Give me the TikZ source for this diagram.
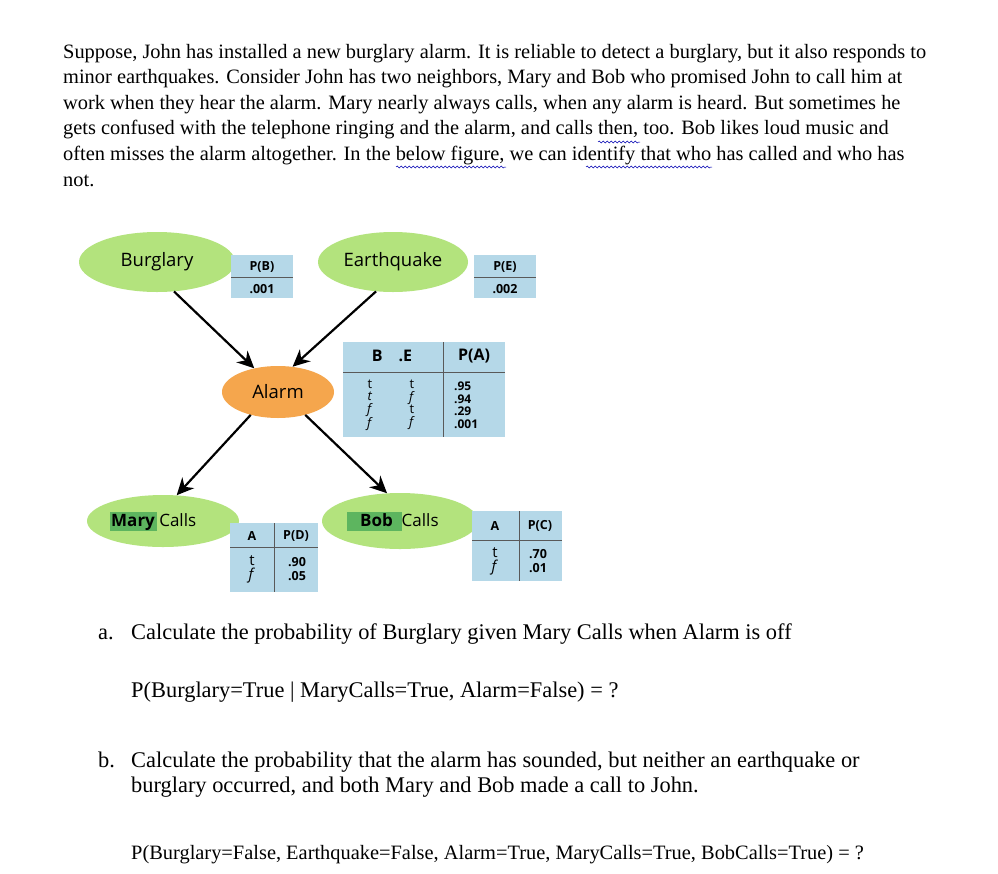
\documentclass[tikz,border=0pt]{standalone}
\usepackage{fontspec}
\setmainfont{Liberation Serif}
\newfontfamily\sans{Open Sans}
\usetikzlibrary{arrows.meta,decorations.pathmorphing,shapes.geometric}
\definecolor{lgreen}{HTML}{B3E37D}
\definecolor{dgreen}{HTML}{5DB55F}
\definecolor{orng}{HTML}{F5A64D}
\definecolor{tblue}{HTML}{B5D8E8}
\begin{document}
\begin{tikzpicture}[x=1pt,y=-1pt,
  body/.style={anchor=base west,inner sep=0pt,font=\fontsize{20.4}{24}\selectfont},
  qbody/.style={anchor=base west,inner sep=0pt,font=\fontsize{22.4}{26}\selectfont},
  ell/.style={ellipse,fill=lgreen,inner sep=0pt,font=\sans\fontsize{18.5}{20}\selectfont},
  arr/.style={-{Stealth[length=17pt,width=16pt]},line width=2.2pt},
  tb/.style={fill=tblue},
  tt/.style={inner sep=0pt,font=\sans\bfseries\fontsize{12.5}{13}\selectfont},
  wavy/.style={draw=blue!70!black,decorate,decoration={snake,amplitude=1pt,segment length=4pt},line width=0.5pt}]
\useasboundingbox (0,0) rectangle (998,873);
\fill[white] (0,0) rectangle (998,873);
% paragraph
\node[body] (l1) at (63,58) {Suppose, John has installed a new burglary alarm. It is reliable to detect a burglary, but it also responds to};
\node[body] (l2) at (63,83) {minor earthquakes. Consider John has two neighbors, Mary and Bob who promised John to call him at};
\node[body] (l3) at (63,109) {work when they hear the alarm. Mary nearly always calls, when any alarm is heard. But sometimes he};
\node[body] (l4) at (63,134) {gets confused with the telephone ringing and the alarm, and calls then, too. Bob likes loud music and};
\node[body] (l5) at (63,160) {often misses the alarm altogether. In the below figure, we can identify that who has called and who has};
\node[body] (l6) at (63,186) {not.};
\draw[wavy] (598,142) -- (640,142);
\draw[wavy] (396,167) -- (506,167);
\draw[wavy] (586,167) -- (712,167);
% nodes
\node[ell,minimum width=156,minimum height=60] (bur) at (157,262) {\raisebox{4pt}{Burglary}};
\node[ell,minimum width=150,minimum height=60] (ear) at (393,262) {\raisebox{4pt}{Earthquake}};
\node[ellipse,fill=orng,inner sep=0pt,minimum width=112,minimum height=52,font=\sans\fontsize{18.5}{20}\selectfont] (ala) at (278,392) {Alarm};
\node[ell,minimum width=152,minimum height=52] (mar) at (163,521) {};
\node[ell,minimum width=156,minimum height=56] (bob) at (400,521) {};
\fill[dgreen] (110,512) rectangle (157,531);
\node[inner sep=0pt,anchor=base west,font=\sans\fontsize{17}{18}\selectfont] (mt) at (111,526) {\textbf{Mary}\ Calls};
\fill[dgreen] (347,512) rectangle (402,531);
\node[inner sep=0pt,anchor=base west,font=\sans\fontsize{17}{18}\selectfont] (bt) at (360,526) {\textbf{Bob}\ \ Calls};
% arrows
\draw[arr] (bur.300) -- (ala.135);
\draw[arr] (ear.240) -- (ala.60);
\draw[arr] (ala.220) -- (mar.62);
\draw[arr] (ala.320) -- (bob.115);
% P(B)
\fill[tb] (231,255) rectangle (293,298);
\draw[gray!70!black,line width=1pt] (231,277) -- (293,277);
\node[tt] (pb) at (262,267) {P(B)};
\node[tt] (pbv) at (262,289) {.001};
% P(E)
\fill[tb] (474,255) rectangle (536,298);
\draw[gray!70!black,line width=1pt] (474,277) -- (536,277);
\node[tt] (pe) at (505,267) {P(E)};
\node[tt] (pev) at (505,289) {.002};
% P(A)
\fill[tb] (343,342) rectangle (505,437);
\draw[gray!70!black,line width=1pt] (343,372) -- (505,372) (443,342) -- (443,437);
\node[tt,font=\sans\bfseries\fontsize{16}{17}\selectfont] (pah) at (392,356) {B\hspace{16pt}.E};
\node[tt,font=\sans\bfseries\fontsize{16}{17}\selectfont] (pa) at (474,356) {P(A)};
\node[inner sep=0pt,align=center,font=\sans\fontsize{13}{12.5}\selectfont] (pac1) at (370,405) {t\\\textit{t}\\\textit{f}\\\textit{f}};
\node[inner sep=0pt,align=center,font=\sans\fontsize{13}{12.5}\selectfont] (pac2) at (412,405) {t\\\textit{f}\\t\\\textit{f}};
\node[inner sep=0pt,align=left,font=\sans\bfseries\fontsize{12}{12.5}\selectfont,anchor=west] (pav) at (454,405) {.95\\.94\\.29\\.001};
% P(D)
\fill[tb] (230,523) rectangle (318,592);
\draw[gray!70!black,line width=1pt] (230,547) -- (318,547) (274,523) -- (274,592);
\node[tt] (dA) at (252,536) {A};
\node[tt] (dP) at (296,536) {P(D)};
\node[inner sep=0pt,align=center,font=\sans\fontsize{15}{14}\selectfont] (dc) at (252,569) {t\\\textit{f}};
\node[inner sep=0pt,align=left,font=\sans\bfseries\fontsize{12.5}{14}\selectfont] (dv) at (297,569) {.90\\.05};
% P(C)
\fill[tb] (472,511) rectangle (562,581);
\draw[gray!70!black,line width=1pt] (472,540) -- (562,540) (519,511) -- (519,581);
\node[tt] (cA) at (495,526) {A};
\node[tt] (cP) at (540,526) {P(C)};
\node[inner sep=0pt,align=center,font=\sans\fontsize{15}{14}\selectfont] (cc) at (495,561) {t\\\textit{f}};
\node[inner sep=0pt,align=left,font=\sans\bfseries\fontsize{12.5}{14}\selectfont] (cv) at (538,561) {.70\\.01};
% questions
\node[qbody] (qa) at (98,639) {a.};
\node[qbody] (qa1) at (131,639) {Calculate the probability of Burglary given Mary Calls when Alarm is off};
\node[qbody] (qa2) at (131,697) {P(Burglary=True | MaryCalls=True, Alarm=False) = ?};
\node[qbody] (qb) at (98,767) {b.};
\node[qbody] (qb1) at (131,767) {Calculate the probability that the alarm has sounded, but neither an earthquake or};
\node[qbody] (qb2) at (131,792) {burglary occurred, and both Mary and Bob made a call to John.};
\node[body] (qb3) at (131,859) {P(Burglary=False, Earthquake=False, Alarm=True, MaryCalls=True, BobCalls=True) = ?};
\end{tikzpicture}
\end{document}
